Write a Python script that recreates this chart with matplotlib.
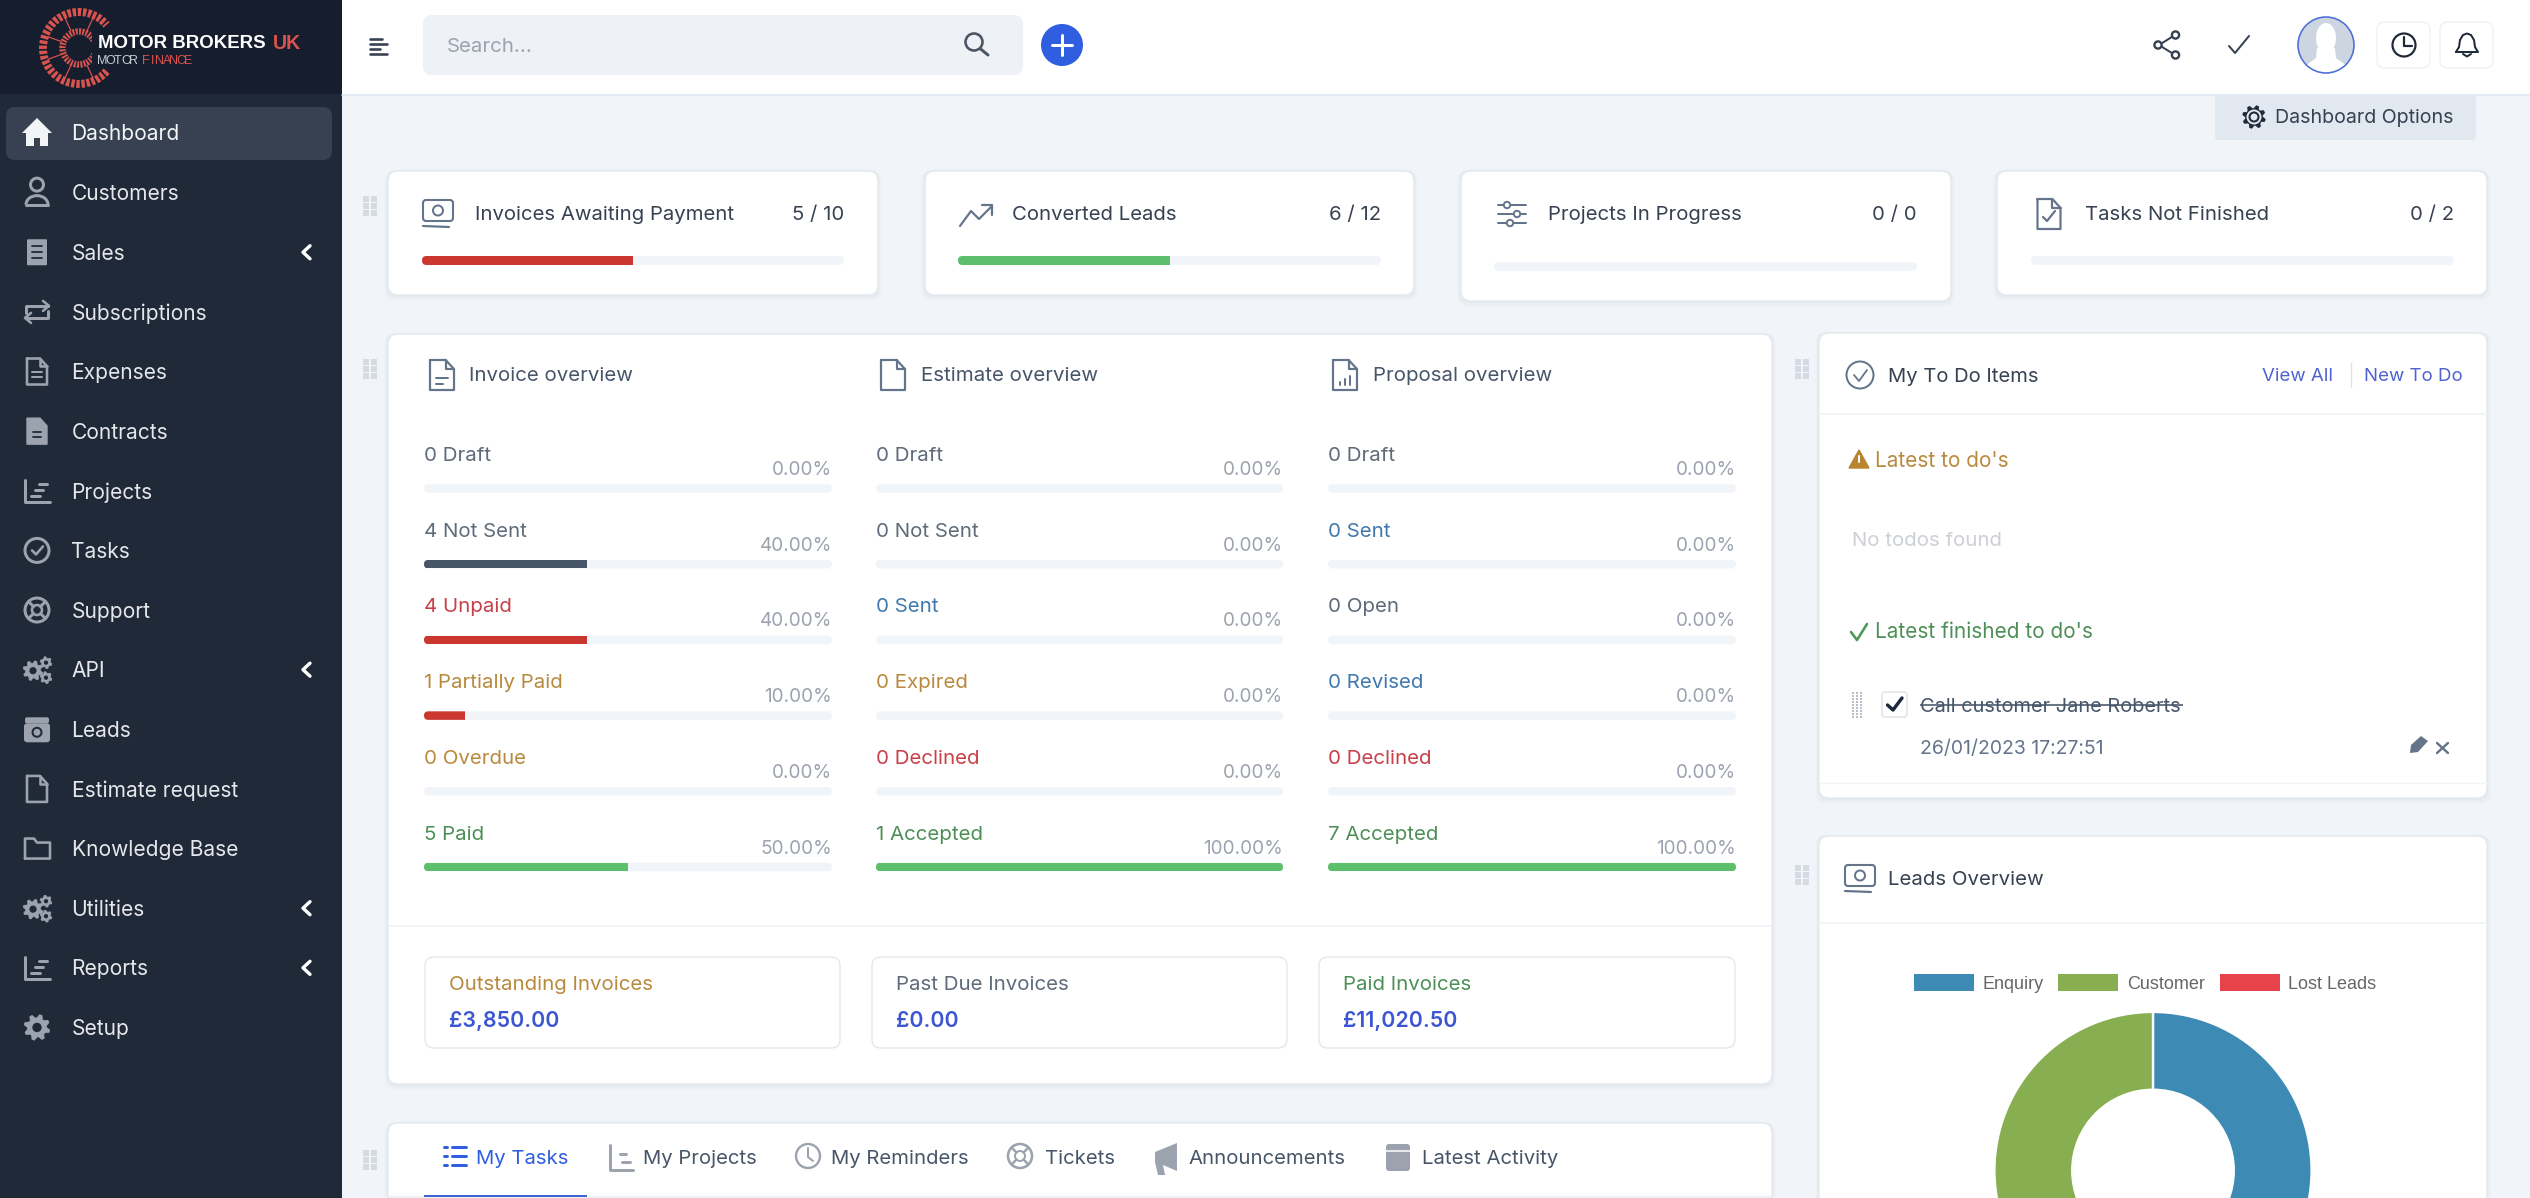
import numpy as np
import matplotlib
matplotlib.use("Agg")
import matplotlib.pyplot as plt
from matplotlib.patches import FancyBboxPatch, Rectangle, Circle, Polygon, Arc, Ellipse, Patch

plt.rcParams['font.family'] = ['Inter', 'DejaVu Sans']

# ---------- data ----------
menu_items = ["Dashboard", "Customers", "Sales", "Subscriptions", "Expenses", "Contracts", "Projects", "Tasks",
              "Support", "API", "Leads", "Estimate request", "Knowledge Base", "Utilities", "Reports", "Setup"]
menu_children = ["Sales", "API", "Utilities", "Reports"]

stat_titles = ["Invoices Awaiting Payment", "Converted Leads", "Projects In Progress", "Tasks Not Finished"]
stat_done = [5, 6, 0, 0]
stat_total = [10, 12, 0, 2]

invoice_labels = ["Draft", "Not Sent", "Unpaid", "Partially Paid", "Overdue", "Paid"]
invoice_counts = [0, 4, 4, 1, 0, 5]
invoice_pcts = [0.0, 40.0, 40.0, 10.0, 0.0, 50.0]

estimate_labels = ["Draft", "Not Sent", "Sent", "Expired", "Declined", "Accepted"]
estimate_counts = [0, 0, 0, 0, 0, 1]
estimate_pcts = [0.0, 0.0, 0.0, 0.0, 0.0, 100.0]

proposal_labels = ["Draft", "Sent", "Open", "Revised", "Declined", "Accepted"]
proposal_counts = [0, 0, 0, 0, 0, 7]
proposal_pcts = [0.0, 0.0, 0.0, 0.0, 0.0, 100.0]

summary_titles = ["Outstanding Invoices", "Past Due Invoices", "Paid Invoices"]
summary_amounts = ["£3,850.00", "£0.00", "£11,020.50"]

tab_labels = ["My Tasks", "My Projects", "My Reminders", "Tickets", "Announcements", "Latest Activity"]

lead_labels = ["Enquiry", "Customer", "Lost Leads"]
lead_values = [50, 50, 0]

# ---------- palette ----------
BG = "#f1f5f9"; SIDE = "#1f2937"; SIDE_TOP = "#161e2e"; ACTIVE = "#374151"
DARK = "#374151"; MUTED = "#64748b"; SOFT = "#9ca3af"; TRACK = "#f1f5f9"; BORDER = "#e5e9ef"
RED_T = "#c8404a"; AMB_T = "#b98a3e"; GRN_T = "#4d8f57"; BLU_T = "#3f78ad"; GRY_T = "#5f6b7a"
RED_B = "#c9372f"; GRN_B = "#5cbf6b"; NAV_B = "#475569"; LINK = "#4f62d0"; AMT = "#3c55d2"
LEAD_COLORS = ["#3d8bb5", "#87ae50", "#e8434a"]
ICON = "#64748b"

W, H = 2530, 1198
fig = plt.figure(figsize=(W / 100, H / 100), dpi=100, facecolor=BG)
ax = fig.add_axes([0, 0, 1, 1], zorder=0)
ax.set_xlim(0, W); ax.set_ylim(H, 0); ax.axis("off")


def T(x, y, s, px=21, color=DARK, ha="left", weight="normal", family=None, z=6, **kw):
    d = dict(fontsize=px * 0.72, color=color, ha=ha, va="center_baseline", fontweight=weight, zorder=z)
    if family:
        d["family"] = family
    d.update(kw)
    return ax.text(x, y - .5, s, **d)


def box(x0, y0, x1, y1, r=8, fc="white", ec="none", lw=0, z=2, **kw):
    p = FancyBboxPatch((x0 + r, y0 + r), x1 - x0 - 2 * r, y1 - y0 - 2 * r, boxstyle=f"round,pad={r},rounding_size={r}",
                       fc=fc, ec=ec, lw=lw, zorder=z, **kw)
    ax.add_patch(p)
    return p


def card(x0, y0, x1, y1):
    for i, a in ((6, .012), (4, .018), (2, .025)):
        box(x0 - i * .6, y0 - i * .2, x1 + i * .6, y1 + i, r=10, fc="#1e293b", alpha=a, z=1.5)
    box(x0, y0, x1, y1, r=10, fc="white", ec=BORDER, lw=1, z=2)


def L(xs, ys, c=ICON, lw=2, z=7, **kw):
    kw.setdefault("solid_capstyle", "round")
    kw.setdefault("solid_joinstyle", "round")
    ax.plot(xs, ys, color=c, lw=lw * .72, zorder=z, **kw)


def ring(x, y, r, c=ICON, lw=2, fc="none", z=7):
    ax.add_patch(Circle((x, y), r, fc=fc, ec=c, lw=lw * .72, zorder=z))


def gear(x, y, r, c, hole=SIDE, teeth=8, z=7):
    a = np.linspace(0, 2 * np.pi, teeth * 4, endpoint=False)
    rad = np.where(np.arange(teeth * 4) % 4 < 2, r, r * .74)
    ax.add_patch(Polygon(np.c_[x + rad * np.cos(a + .2), y + rad * np.sin(a + .2)], fc=c, ec=c, lw=.5, zorder=z))
    if hole:
        ax.add_patch(Circle((x, y), r * .36, fc=hole, ec="none", zorder=z + .1))


def doc(x, y, w, h, c=ICON, lw=2.2, fill=False, fc=None):
    xs = [x - w / 2, x + w * .15, x + w / 2, x + w / 2, x - w / 2, x - w / 2]
    ys = [y - h / 2, y - h / 2, y - h * .2, y + h / 2, y + h / 2, y - h / 2]
    if fill:
        ax.add_patch(Polygon(np.c_[xs, ys], fc=c, ec=c, zorder=7))
    else:
        L(xs, ys, c, lw)
        L([x + w * .15, x + w * .15, x + w / 2], [y - h / 2, y - h * .2, y - h * .2], c, lw)


def money(x, y, c=ICON):
    box(x - 15, y - 12, x + 15, y + 9, r=3, fc="none", ec=c, lw=1.5, z=7)
    ring(x, y - 1.5, 5, c, 2)
    L([x - 15, x + 11], [y + 14, y + 15], c, 2.2)


def handle(x, y):
    xs = np.repeat([x - 4, x + 4], 3); ys = np.tile([y - 7, y, y + 7], 2)
    ax.scatter(xs, ys, s=22, marker="s", c="#d6dbe3", lw=0, zorder=3)


# ---------- page frame ----------
ax.add_patch(Rectangle((342, 0), W - 342, 94, fc="white", ec="none", zorder=1))
L([342, W], [94.5, 94.5], "#e2e8f0", 1.5, z=1.2)
ax.add_patch(Rectangle((0, 0), 342, H, fc=SIDE, ec="none", zorder=1))
ax.add_patch(Rectangle((0, 0), 342, 94, fc=SIDE_TOP, ec="none", zorder=1.1))

# logo
LOGO = "#d9534f"
lx, ly = 79, 48
for r, lw, st, en, ds in ((36, 8, 40, 320, (.42, .22)), (16.5, 6.5, 22, 338, (.3, .2))):
    ax.add_patch(Arc((lx, ly), 2 * r, 2 * r, theta1=st, theta2=en, color=LOGO, lw=lw * .72, ls=(0, ds), zorder=3))
for ang in (65, 115, 160, 200, 245, 295):
    c_, s_ = np.cos(np.radians(ang)), np.sin(np.radians(ang))
    L([lx + 19 * c_, lx + 33 * c_], [ly + 19 * s_, ly + 33 * s_], LOGO, 1.2, z=3)
ax.add_patch(Rectangle((92, 33), 210, 34, fc=SIDE_TOP, ec="none", zorder=4))
T(98, 42, "MOTOR BROKERS", 18.6, "white", weight="bold", family="Liberation Sans")
T(273, 42, "UK", 19.6, LOGO, weight="bold", family="Liberation Sans")
for i_, ch in enumerate("MOTOR"):
    T(102 + i_ * 8, 59.5, ch, 12.5, "#c7ccd3", ha="center", family="Liberation Sans")
for i_, ch in enumerate("FINANCE"):
    T(146 + i_ * 7, 59.5, ch, 12.5, LOGO, ha="center", family="Liberation Sans")

# sidebar
box(6, 107, 332, 160, r=9, fc=ACTIVE, z=1.5)
row_y = [133 + 59.63 * i for i in range(len(menu_items))]
for name, y in zip(menu_items, row_y):
    T(71.5, y, name, 21, "#f3f4f6" if name == "Dashboard" else "#e5e7eb")
    if name in menu_children:
        L([310, 303, 310], [y - 6.5, y, y + 6.5], "white", 3.4)
SI = "#9ca3af"; ix = 37; y_ = dict(zip(menu_items, row_y))
y = y_["Dashboard"]
ax.add_patch(Polygon([(ix - 15, y + 0), (ix, y - 15), (ix + 15, y + 0), (ix + 11, y + 0), (ix + 11, y + 13), (ix + 3, y + 13),
                      (ix + 3, y + 5), (ix - 3, y + 5), (ix - 3, y + 13), (ix - 11, y + 13), (ix - 11, y + 0)], fc="#f3f4f6", zorder=7))
y = y_["Customers"]
ring(ix, y - 8, 6.5, SI, 3)
ax.add_patch(Arc((ix, y + 12), 22, 18, theta1=180, theta2=360, color=SI, lw=2.2, zorder=7))
L([ix - 11, ix + 11], [y + 12, y + 12], SI, 3)
y = y_["Sales"]
box(ix - 10, y - 13, ix + 10, y + 13, r=1, fc=SI, z=7)
for d_ in (-6, 0, 6):
    L([ix - 5, ix + 5], [y + d_, y + d_], SIDE, 1.8, z=8)
y = y_["Subscriptions"]
L([ix - 11, ix - 11, ix + 11], [y + 1, y - 6, y - 6], SI, 3)
L([ix + 11, ix + 11, ix - 11], [y - 1, y + 6, y + 6], SI, 3)
L([ix + 6, ix + 12, ix + 6], [y - 11, y - 6, y - 1], SI, 2.6)
L([ix - 6, ix - 12, ix - 6], [y + 1, y + 6, y + 11], SI, 2.6)
y = y_["Expenses"]
doc(ix, y, 20, 26, SI, 2.6)
for d_ in (0, 5):
    L([ix - 5, ix + 5], [y + d_, y + d_], SI, 2)
y = y_["Contracts"]
doc(ix, y, 20, 26, SI, fill=True)
for d_ in (1, 6):
    L([ix - 4, ix + 4], [y + d_, y + d_], SIDE, 1.8, z=8)
for n_ in ("Projects", "Reports"):
    y = y_[n_]
    L([ix - 12, ix - 12, ix + 13], [y - 11, y + 11, y + 11], SI, 3)
    for dx, dy, ln in ((-6, 5, 9), (-2, -1, 8), (2, -7, 8)):
        L([ix + dx, ix + dx + ln], [y + dy, y + dy], SI, 3)
y = y_["Tasks"]
ring(ix, y, 12, SI, 3)
L([ix - 5, ix - 1, ix + 6], [y, y + 4, y - 4], SI, 2.6)
y = y_["Support"]
ring(ix, y, 12, SI, 3); ring(ix, y, 5, SI, 2.6)
for a_ in (45, 135, 225, 315):
    c_, s_ = np.cos(np.radians(a_)), np.sin(np.radians(a_))
    L([ix + 5 * c_, ix + 12 * c_], [y + 5 * s_, y + 12 * s_], SI, 3)
for n_ in ("API", "Utilities"):
    y = y_[n_]
    gear(ix - 4, y + 1, 10, SI); gear(ix + 9, y - 7, 6, SI, teeth=6); gear(ix + 9, y + 8, 6, SI, teeth=6)
y = y_["Leads"]
box(ix - 13, y - 6, ix + 13, y + 13, r=3, fc=SI, z=7)
box(ix - 12, y - 12, ix + 12, y - 6, r=2, fc=SI, z=7)
ring(ix, y + 3, 4.5, SIDE, 2, z=8)
y = y_["Estimate request"]
doc(ix, y, 20, 26, SI, 2.6)
y = y_["Knowledge Base"]
L([ix - 12, ix - 12, ix - 3, ix, ix + 13, ix + 13, ix - 12], [y + 10, y - 10, y - 10, y - 6, y - 6, y + 10, y + 10], SI, 2.6)
y = y_["Setup"]
gear(ix, y, 13, SI)

# top bar
for yy, x1 in ((38.5, 382), (44, 387), (49, 380), (54, 387)):
    L([370, x1], [yy, yy], "#374151", 2.6)
box(423, 15, 1023, 75, r=9, fc="#eef1f5", z=2)
T(447, 46, "Search...", 20.5, "#9ca3af")
ring(974, 42, 8.5, "#4b5563", 2.6)
L([980, 988], [48.5, 55], "#4b5563", 3)
ax.add_patch(Circle((1062, 45), 21, fc="#2f5fe0", ec="none", zorder=3))
L([1052, 1072], [45, 45], "white", 3, z=4); L([1062, 1062], [35, 55], "white", 3, z=4)

sx, sy = 2167, 45
L([sx + 8, sx - 8, sx + 8], [sy - 10, sy, sy + 10], "#374151", 2)
for px_, py_ in ((sx + 8.5, sy - 10), (sx - 9, sy), (sx + 8.5, sy + 10)):
    ax.add_patch(Circle((px_, py_), 3.6, fc="white", ec="#374151", lw=1.7, zorder=8))
L([2229, 2235, 2249], [46, 53, 36], "#374151", 2)
# avatar
av = Circle((2326, 45), 28, fc="#cdd5e0", ec="none", zorder=3)
ax.add_patch(av)
sil = [Ellipse((2326, 38), 20, 30, fc="white", ec="none", zorder=3.5),
       Polygon([(2317, 48), (2335, 48), (2336, 58), (2347, 66), (2347, 80), (2305, 80), (2305, 66), (2316, 58)], fc="white", ec="none", zorder=3.5)]
for s_ in sil:
    ax.add_patch(s_); s_.set_clip_path(av)
ring(2326, 45, 28, "#4b6fd6", 1.6, z=4)
for x0 in (2377, 2440):
    box(x0, 22, x0 + 53, 68, r=8, fc="white", ec="#eef1f5", lw=1, z=2)
ring(2404, 45, 11.5, "#1f2937", 2.2)
L([2404, 2404, 2412], [37, 46, 46], "#1f2937", 2.2)
L([2456, 2459, 2460, 2463, 2467, 2471, 2474, 2475, 2478, 2456], [52, 47, 40, 35, 33.5, 35, 40, 47, 52, 52], "#1f2937", 2)
L([2463, 2467, 2471], [54, 56.5, 54], "#1f2937", 2)
ax.add_patch(Rectangle((2215, 95), 261, 38, fc="#e2e8f0", ec="none", zorder=2))
box(2215, 100, 2476, 140, r=4, fc="#e2e8f0", z=2)
gear(2254, 117, 11.5, "#1f2937", hole="#e2e8f0", teeth=8)
ax.add_patch(Circle((2254, 117), 7.5, fc="#e2e8f0", ec="none", zorder=7.05))
ring(2254, 117, 4.5, "#1f2937", 2, z=7.2)
T(2275, 116.5, "Dashboard Options", 19.6, "#374151")


# ---------- progress bars ----------
def tracks(x0, x1, ys, h):
    out = []
    for yy in ys:
        out.append(box(x0, yy - h / 2, x1, yy + h / 2, r=h / 2 - .01, fc=TRACK, z=3))
    return out


def bars(x0, x1, ys, pcts, colors, h):
    """Draw percentage bars on an axes whose x scale is 0-100, clipped to the rounded tracks."""
    pitch = (ys[-1] - ys[0]) / max(len(ys) - 1, 1) if len(ys) > 1 else 40
    top, bot = ys[0] - pitch / 2, ys[-1] + pitch / 2
    a = fig.add_axes([x0 / W, 1 - bot / H, (x1 - x0) / W, (bot - top) / H], zorder=2)
    a.set_xlim(0, 100); a.set_ylim(len(ys) - .5, -.5); a.axis("off"); a.patch.set_alpha(0)
    ps = tracks(x0, x1, ys, h)
    rects = a.barh(range(len(ys)), pcts, height=h / pitch, color=colors, lw=0)
    for r_, p_ in zip(rects, ps):
        r_.set_clip_path(p_)


# ---------- stat cards ----------
card_x = [(388, 878), (925, 1414), (1461, 1951), (1997, 2487)]
card_bot = [295, 295, 301, 295]
stat_x = [475, 1012, 1548, 2085]
bar_x = [(422, 844), (958, 1381), (1494, 1917), (2031, 2454)]
bar_y = [260.5, 260.5, 266.5, 260.5]
stat_col = [RED_B, GRN_B, RED_B, RED_B]
for i in range(4):
    card(card_x[i][0], 171, card_x[i][1], card_bot[i])
    T(stat_x[i], 214, stat_titles[i], 20.35, "#374151")
    T(bar_x[i][1], 214, f"{stat_done[i]} / {stat_total[i]}", 20.35, "#374151", ha="right")
    pct = 100 * stat_done[i] / stat_total[i] if stat_total[i] else 0
    bars(*bar_x[i], [bar_y[i]], [pct], [stat_col[i]], 9)
money(438, 212)
L([960, 971, 979, 992], [226, 211, 219, 206], ICON, 2.2); L([982, 992, 992], [205, 205, 215], ICON, 2.2)
for d_, k_ in ((-9, -5), (0, 5), (9, -2)):
    L([1498, 1526], [214 + d_, 214 + d_], ICON, 2)
    ax.add_patch(Circle((1512 + k_, 214 + d_), 3.2, fc="white", ec=ICON, lw=1.4, zorder=8))
doc(2049, 214, 23, 30, ICON, 2.2)
L([2043, 2047, 2055], [217, 221, 211], ICON, 2.2)

for hx, hy in ((370, 206), (370, 369), (370, 1160), (1802, 369), (1802, 875)):
    handle(hx, hy)

# ---------- overview panel ----------
card(388, 334, 1772, 1084)
L([388, 1772], [926, 926], "#eef1f5", 1.5, z=3)
ov_x = [(424, 832), (876, 1283), (1328, 1736)]
ov_titles = ["Invoice overview", "Estimate overview", "Proposal overview"]
ov_text_x = [469, 921, 1373]
ov_icon_x = [442, 893, 1345]
row_ys = [488.5 + 75.7 * i for i in range(6)]

inv_tc = [GRY_T, GRY_T, RED_T, AMB_T, AMB_T, GRN_T]
inv_bc = [NAV_B, NAV_B, RED_B, RED_B, AMB_T, GRN_B]
est_tc = [GRY_T, GRY_T, BLU_T, AMB_T, RED_T, GRN_T]
pro_tc = [GRY_T, BLU_T, GRY_T, BLU_T, RED_T, GRN_T]
sets = [(invoice_labels, invoice_counts, invoice_pcts, inv_tc, inv_bc),
        (estimate_labels, estimate_counts, estimate_pcts, est_tc, [GRN_B] * 6),
        (proposal_labels, proposal_counts, proposal_pcts, pro_tc, [GRN_B] * 6)]
for k, (labs, cnts, pcs, tcs, bcs) in enumerate(sets):
    x0, x1 = ov_x[k]
    T(ov_text_x[k], 374.5, ov_titles[k], 20.4, "#475569")
    doc(ov_icon_x[k], 375, 24, 30, ICON, 2.2)
    if k == 0:
        L([436, 448], [378, 378], ICON, 2); L([436, 443], [384, 384], ICON, 2)
    if k == 2:
        for d_, hh in ((-5, 3), (0, 6), (5, 9)):
            L([1345 + d_, 1345 + d_], [385, 385 - hh], ICON, 2)
    for lab, cnt, pc, tc, yy in zip(labs, cnts, pcs, tcs, row_ys):
        T(x0, yy - 34, f"{cnt} {lab}", 20.5, tc)
        T(x1, yy - 20, f"{pc:.2f}%", 19, "#9ca3af", ha="right")
    bars(x0, x1, row_ys, pcs, bcs, 8.5)

sum_x = [(425, 840), (872, 1287), (1319, 1735)]
sum_c = [AMB_T, GRY_T, GRN_T]
for (x0, x1), tt, am, c in zip(sum_x, summary_titles, summary_amounts, sum_c):
    box(x0, 957, x1, 1048, r=9, fc="white", ec=BORDER, lw=1.1, z=3)
    T(x0 + 24, 983, tt, 20.5, c)
    T(x0 + 24, 1019.5, am, 21.4, AMT, weight="semibold")

# ---------- tabs panel ----------
card(388, 1123, 1772, 1215)
tab_x = [476, 643, 831, 1045, 1188, 1422]
for lab, x_ in zip(tab_labels, tab_x):
    T(x_, 1158, lab, 20.3, "#2f5fe0" if lab == "My Tasks" else "#475569")
L([424, 587], [1195.5, 1195.5], "#3f63cf", 2, z=5, solid_capstyle="butt")
L([388, 1772], [1197, 1197], "#e8ecf1", 1.5, z=4)
for dy in (-9, 0, 9):
    L([444, 447], [1156 + dy, 1156 + dy], "#2f5fe0", 3)
    L([452, 466], [1156 + dy, 1156 + dy], "#2f5fe0", 3)
L([610, 610, 633], [1145, 1170, 1170], SOFT, 3); L([620, 626], [1154, 1154], SOFT, 3); L([622, 630], [1162, 1162], SOFT, 3)
ring(808, 1156, 12, SOFT, 2.4); L([808, 808, 813], [1148, 1157, 1161], SOFT, 2)
ring(1020, 1156, 12, SOFT, 2.6); ring(1020, 1156, 5, SOFT, 2)
for a_ in (45, 135, 225, 315):
    c_, s_ = np.cos(np.radians(a_)), np.sin(np.radians(a_))
    L([1020 + 5 * c_, 1020 + 12 * c_], [1156 + 5 * s_, 1156 + 12 * s_], SOFT, 2.4)
ax.add_patch(Polygon([(1155, 1152), (1177, 1143), (1177, 1171), (1163, 1165), (1165, 1175), (1158, 1175), (1155, 1162)], fc=SOFT, zorder=7))
box(1386, 1144, 1410, 1171, r=3, fc=SOFT, z=7)
L([1386, 1410], [1151, 1151], "white", 1.5, z=8)

# ---------- to-do panel ----------
card(1819, 333, 2487, 798)
L([1819, 2487], [414, 414], "#eef1f5", 1.5, z=3)
L([1819, 2487], [783, 783], "#f1f4f7", 1.2, z=3)
T(1888, 375, "My To Do Items", 20.2, "#374151")
ring(1860, 375, 13.5, ICON, 2); L([1854, 1859, 1867], [375, 381, 370], ICON, 1.8)
T(2262, 375, "View All", 18.7, LINK); T(2364, 375, "New To Do", 18.7, LINK)
L([2351, 2351], [363, 387], "#dfe4ea", 1.3)
ax.add_patch(Polygon([(1849, 468), (1859, 450), (1869, 468)], fc="#b8862e", ec="#b8862e", lw=1, zorder=7))
L([1859, 1859], [456, 462], "white", 2, z=8)
T(1875, 459.5, "Latest to do's", 20.8, AMB_T)
T(1852, 539.5, "No todos found", 20.4, "#ccd0d5")
L([1851, 1857, 1867], [632, 640, 624], "#4d9a58", 2.6)
T(1875, 630, "Latest finished to do's", 20.8, GRN_T)
ax.scatter(np.repeat([1853, 1857, 1861], 9), np.tile(np.linspace(693, 717, 9), 3), s=1.4, c="#b9bfc7", lw=0, marker="s", zorder=7)
box(1882, 692, 1907, 717, r=3, fc="white", ec="#dfe3e8", lw=1.1, z=6)
L([1887.5, 1893, 1902], [705, 710, 698], "#1e293b", 3.4, z=7)
T(1920, 705, "Call customer Jane Roberts", 20, "#475569")
L([1920, 2183], [704.5, 704.5], "#475569", 1.6, z=8, solid_capstyle="butt")
T(1920, 748, "26/01/2023 17:27:51", 19.4, "#64748b")
ax.add_patch(Polygon([(2410, 753), (2411, 745), (2421, 736), (2428, 741), (2418, 752)], fc=ICON, zorder=7))
L([2437, 2448], [743, 753], ICON, 2.4); L([2448, 2437], [743, 753], ICON, 2.4)

# ---------- leads panel ----------
card(1819, 836, 2487, 1215)
L([1819, 2487], [923, 923], "#eef1f5", 1.5, z=3)
T(1888, 878.5, "Leads Overview", 20.4, "#374151")
money(1860, 877)
handles = [Patch(fc=c, ec="none", label=l) for c, l in zip(LEAD_COLORS, lead_labels)]
leg = ax.legend(handles=handles, ncol=3, frameon=False, loc="center", bbox_to_anchor=(2145, 983.5),
                bbox_transform=ax.transData, prop=dict(family="Liberation Sans", size=18 * .72),
                labelcolor="#666666", handlelength=3.33, handleheight=1.0, handletextpad=.48,
                columnspacing=.83, borderpad=0, borderaxespad=0)
leg.set_zorder(6)

R = 158.5
cx, cy, dtop = 2153, 1170.5, 1012
da = fig.add_axes([(cx - R) / W, 0, 2 * R / W, (H - dtop) / H], zorder=2)
da.patch.set_alpha(0)
da.pie(lead_values, colors=LEAD_COLORS, startangle=90, counterclock=False, radius=1,
       wedgeprops=dict(width=.49, edgecolor="white", linewidth=1.6))
da.set_aspect("auto")
da.set_xlim(-1, 1)
da.set_ylim(1 - (H - dtop) / R, 1)
da.axis("off")

fig.savefig("out.png", dpi=100, facecolor=BG)
